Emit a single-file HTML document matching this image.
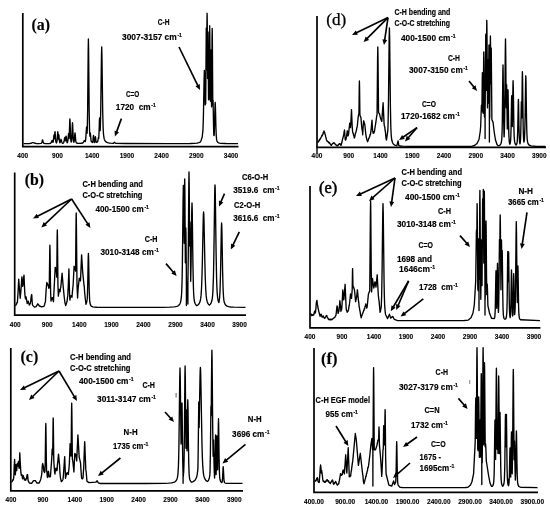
<!DOCTYPE html>
<html><head><meta charset="utf-8"><style>
html,body{margin:0;padding:0;background:#fff;}
svg{display:block;}
text{font-family:"Liberation Sans",Arial,sans-serif;font-weight:bold;fill:#000;stroke:#000;stroke-width:0.15;}
.tk{stroke-width:0.1;}
.sp{fill:none;stroke:#000;stroke-width:1.35;stroke-linejoin:round;}
</style></head><body>
<svg width="550" height="508" viewBox="0 0 550 508">
<rect width="550" height="508" fill="#fff"/>
<path d="M22.8,13 L22.8,146.6 L238.5,146.6" fill="none" stroke="#000" stroke-width="1.7"/><text class="tk" x="22.8" y="157.6" font-size="6.5" text-anchor="middle">400</text><text class="tk" x="57.5" y="157.6" font-size="6.5" text-anchor="middle">900</text><text class="tk" x="92.2" y="157.6" font-size="6.5" text-anchor="middle">1400</text><text class="tk" x="126.9" y="157.6" font-size="6.5" text-anchor="middle">1900</text><text class="tk" x="161.6" y="157.6" font-size="6.5" text-anchor="middle">2400</text><text class="tk" x="196.3" y="157.6" font-size="6.5" text-anchor="middle">2900</text><text class="tk" x="231.0" y="157.6" font-size="6.5" text-anchor="middle">3400</text>
<path d="M23.60,143.59 L29.95,143.46 L31.00,143.27 L32.50,142.69 L33.00,142.60 L33.50,142.69 L35.00,143.27 L36.05,143.46 L38.75,143.56 L40.80,143.42 L41.30,143.24 L41.65,142.83 L41.95,141.96 L42.35,140.17 L42.50,139.90 L42.65,140.17 L43.30,142.73 L43.60,143.17 L44.10,143.40 L45.20,143.53 L47.15,143.56 L49.35,143.49 L50.40,143.31 L50.80,143.07 L51.10,142.69 L51.85,140.82 L52.10,140.50 L52.35,140.82 L52.95,142.40 L53.15,141.81 L53.35,140.62 L53.95,135.07 L54.00,135.00 L54.05,135.07 L54.15,135.63 L54.45,138.79 L54.85,132.68 L55.00,131.60 L55.15,132.68 L55.70,140.60 L56.00,142.23 L56.40,142.92 L56.80,142.23 L57.10,140.60 L57.65,132.68 L57.80,131.60 L57.95,132.68 L58.35,139.01 L58.70,135.17 L58.80,134.80 L58.85,134.89 L59.45,141.06 L59.65,142.15 L59.90,142.79 L60.20,142.17 L60.80,139.69 L61.00,139.30 L61.20,139.69 L61.75,142.01 L62.10,142.84 L62.35,143.12 L62.70,143.31 L63.15,143.15 L63.45,142.91 L63.70,142.51 L63.95,141.75 L64.60,137.96 L64.80,137.40 L65.00,137.96 L65.45,140.79 L65.95,136.65 L66.10,136.10 L66.25,136.65 L66.80,141.31 L67.05,142.38 L67.30,142.78 L67.60,142.14 L67.85,140.89 L68.55,133.59 L68.60,133.50 L68.70,133.84 L69.10,138.55 L69.15,138.24 L69.75,121.11 L69.90,118.90 L70.05,121.11 L70.60,137.42 L70.85,140.43 L71.00,141.32 L71.25,142.10 L71.55,140.92 L71.80,138.37 L72.35,124.57 L72.50,122.70 L72.65,124.57 L73.20,138.37 L73.45,140.92 L73.60,141.67 L73.85,142.33 L74.05,141.86 L74.30,140.33 L74.85,133.69 L75.00,132.90 L75.15,133.69 L75.80,141.07 L76.10,142.35 L76.50,142.95 L77.10,143.26 L78.00,143.42 L80.80,143.27 L82.70,143.02 L83.25,142.45 L84.15,140.80 L84.45,140.51 L84.75,140.66 L85.30,141.59 L85.55,140.35 L85.80,138.08 L86.50,127.40 L86.60,127.00 L86.75,127.87 L87.10,133.20 L87.30,128.43 L87.65,110.12 L88.20,49.99 L88.40,39.00 L88.60,49.99 L89.15,110.12 L89.50,128.43 L89.70,133.20 L89.95,136.31 L90.20,133.36 L90.30,133.00 L90.35,133.09 L91.10,141.09 L91.80,142.00 L92.55,142.52 L92.65,142.26 L92.90,140.91 L93.35,136.23 L93.50,135.50 L93.65,136.23 L94.10,140.91 L94.45,142.56 L94.50,142.60 L94.60,142.30 L94.80,141.30 L95.25,137.32 L95.40,136.70 L95.55,137.32 L96.00,141.30 L96.25,142.46 L97.10,142.10 L97.65,141.68 L97.70,141.54 L98.40,137.55 L98.55,137.44 L98.75,138.23 L99.05,132.22 L99.45,119.89 L99.60,118.00 L99.75,119.89 L100.15,130.60 L100.45,122.62 L100.70,111.46 L101.45,55.66 L101.70,47.00 L101.95,55.66 L102.70,111.46 L103.15,128.47 L103.50,134.31 L104.05,138.20 L104.35,139.29 L104.75,140.29 L105.20,141.06 L105.70,141.63 L106.50,142.22 L107.50,142.65 L108.80,142.96 L110.50,143.18 L113.40,143.35 L113.75,143.08 L114.30,142.33 L114.50,142.20 L114.70,142.33 L115.35,143.18 L115.85,143.44 L125.95,143.54 L169.55,143.58 L190.30,143.46 L194.45,143.32 L197.10,143.08 L198.90,142.69 L200.20,142.06 L200.70,141.59 L202.20,137.00 L202.95,130.18 L203.40,116.55 L204.10,78.53 L204.35,70.65 L204.40,70.40 L204.50,71.39 L204.65,76.22 L205.15,104.30 L205.20,104.86 L205.30,104.00 L205.70,103.48 L206.25,29.24 L206.30,28.00 L206.40,32.82 L206.65,69.98 L206.95,22.91 L207.10,13.30 L207.25,22.91 L207.60,78.45 L207.90,36.65 L208.00,32.00 L208.05,33.20 L208.55,99.76 L209.10,99.04 L209.15,98.49 L209.55,36.27 L209.70,25.70 L209.85,36.27 L210.25,98.49 L210.30,100.15 L210.50,101.23 L210.85,58.39 L211.00,50.00 L211.15,58.39 L211.55,106.88 L212.05,38.73 L212.20,28.40 L212.35,38.73 L212.80,105.28 L212.95,100.47 L213.00,100.00 L213.10,101.82 L213.55,126.92 L213.80,135.11 L214.10,135.59 L214.15,135.54 L214.30,132.53 L215.00,106.09 L215.20,102.40 L215.40,106.09 L215.90,126.71 L216.20,134.65 L216.60,139.39 L216.85,140.63 L217.25,141.64 L217.80,142.35 L218.50,142.81 L219.50,143.13 L220.90,143.33 L225.90,143.52 L238.00,143.58" class="sp"/>
<text x="31.5" y="29.7" style="font-family:'Liberation Serif',serif;font-weight:bold" font-size="16" textLength="18.5" lengthAdjust="spacingAndGlyphs">(a)</text>
<text x="157.8" y="24.9" font-size="8.4" textLength="11.8" lengthAdjust="spacingAndGlyphs">C-H</text>
<text x="122.0" y="39.8" font-size="8.4" textLength="54.8" lengthAdjust="spacingAndGlyphs">3007-3157 cm</text><text x="177.4" y="36.8" font-size="5.21" textLength="4.6" lengthAdjust="spacingAndGlyphs">-1</text>
<line x1="179.0" y1="47.0" x2="198.1" y2="86.1" stroke="#000" stroke-width="1.65"/><polygon points="200.0,90.0 195.5,86.2 199.8,84.1" fill="#000"/>
<text x="125.9" y="96.7" font-size="8.4" textLength="13.4" lengthAdjust="spacingAndGlyphs">C=O</text>
<text x="115.8" y="110.4" font-size="8.4" textLength="34.8" lengthAdjust="spacingAndGlyphs">1720 &#160;cm</text><text x="151.2" y="107.4" font-size="5.21" textLength="4.6" lengthAdjust="spacingAndGlyphs">-1</text>
<line x1="121.4" y1="118.6" x2="116.4" y2="132.4" stroke="#000" stroke-width="1.65"/><polygon points="114.9,136.5 114.5,130.6 119.0,132.2" fill="#000"/>
<path d="M317,16 L317,147.3 L546,147.3" fill="none" stroke="#000" stroke-width="1.7"/><path d="M317,147.3 L317,153" stroke="#000" stroke-width="1.4"/><text class="tk" x="317.0" y="157.7" font-size="6.5" text-anchor="middle">400</text><text class="tk" x="348.8" y="157.7" font-size="6.5" text-anchor="middle">900</text><text class="tk" x="380.5" y="157.7" font-size="6.5" text-anchor="middle">1400</text><text class="tk" x="412.3" y="157.7" font-size="6.5" text-anchor="middle">1900</text><text class="tk" x="444.0" y="157.7" font-size="6.5" text-anchor="middle">2400</text><text class="tk" x="475.8" y="157.7" font-size="6.5" text-anchor="middle">2900</text><text class="tk" x="507.6" y="157.7" font-size="6.5" text-anchor="middle">3400</text><text class="tk" x="539.3" y="157.7" font-size="6.5" text-anchor="middle">3900</text>
<path d="M317.60,142.67 L318.00,142.23 L318.35,141.27 L318.70,141.45 L319.05,140.27 L319.40,140.56 L319.75,139.19 L320.10,139.36 L320.45,138.37 L320.80,138.16 L321.15,137.07 L321.50,136.95 L321.85,135.27 L322.20,135.74 L322.55,134.87 L322.90,134.47 L323.25,132.49 L323.60,132.87 L323.95,130.82 L324.30,131.85 L324.65,132.26 L325.00,134.30 L325.35,134.97 L325.70,136.90 L326.05,137.85 L326.40,139.70 L326.75,140.59 L327.10,141.24 L327.45,141.07 L327.80,141.83 L328.15,141.66 L328.50,142.47 L328.85,142.32 L329.20,143.13 L329.55,142.76 L329.90,143.89 L330.25,143.82 L330.60,144.81 L330.95,144.87 L331.30,145.46 L331.65,144.39 L332.00,144.48 L332.35,143.74 L333.05,143.16 L333.40,143.28 L333.75,142.68 L334.10,143.06 L334.45,143.05 L334.80,143.73 L335.15,144.09 L335.50,144.68 L335.85,144.58 L336.20,145.20 L336.55,145.14 L336.90,145.73 L337.25,145.50 L337.60,145.88 L337.95,145.12 L338.30,145.12 L338.65,144.38 L339.00,144.37 L339.35,143.59 L339.70,143.61 L340.00,143.82 L341.00,145.44 L341.70,143.05 L342.75,138.24 L343.10,137.66 L343.45,135.47 L343.80,134.33 L344.15,131.55 L344.50,130.00 L345.20,139.54 L345.55,140.16 L345.90,139.64 L346.60,136.40 L346.95,133.09 L347.30,130.80 L347.65,131.74 L348.00,135.85 L348.35,135.22 L348.70,133.30 L349.05,128.80 L349.40,126.31 L349.70,123.20 L350.10,126.30 L350.45,127.62 L350.80,123.46 L351.50,109.60 L352.20,126.63 L352.55,130.90 L352.90,133.10 L353.25,133.29 L353.60,135.45 L353.95,135.56 L354.30,138.05 L354.65,137.32 L355.00,135.87 L355.35,133.18 L355.70,133.10 L356.05,131.56 L356.40,130.55 L356.75,127.90 L357.10,127.25 L357.45,124.74 L358.30,115.90 L358.95,113.60 L359.25,86.86 L359.40,81.00 L359.55,86.86 L359.90,114.56 L360.20,116.10 L360.90,117.40 L361.65,126.21 L362.00,129.20 L362.35,130.78 L362.70,134.80 L363.05,127.93 L363.60,120.80 L364.70,124.10 L365.15,127.47 L365.50,131.48 L366.20,136.97 L366.55,138.17 L366.90,140.02 L367.25,140.62 L367.60,141.73 L367.95,140.54 L368.30,140.08 L368.65,138.43 L369.00,138.44 L369.35,137.06 L369.70,136.72 L370.05,134.53 L370.40,134.88 L371.10,129.79 L372.00,120.10 L372.50,129.67 L372.85,131.91 L373.20,133.28 L373.55,131.63 L373.90,132.97 L374.60,130.79 L374.95,127.82 L375.60,124.10 L376.70,116.10 L377.05,114.59 L377.60,57.45 L377.80,47.00 L378.00,57.45 L378.55,112.66 L379.40,113.40 L380.70,118.80 L381.80,121.40 L383.10,102.70 L384.10,124.10 L384.40,125.95 L384.75,126.81 L385.10,130.25 L385.45,131.86 L385.80,136.28 L386.15,139.07 L386.50,140.05 L387.85,130.46 L388.10,122.76 L388.55,95.86 L389.15,38.61 L389.40,28.00 L389.65,38.61 L390.40,107.01 L390.85,127.86 L391.20,135.02 L391.65,139.20 L391.85,140.28 L392.50,142.47 L392.90,143.28 L393.40,143.99 L394.05,144.60 L394.80,145.06 L395.75,145.42 L396.90,145.70 L398.10,140.80 L398.80,145.50 L399.60,146.02 L402.65,146.17 L409.40,146.30 L468.90,146.30 L471.95,146.23 L472.30,146.20 L474.50,145.50 L477.00,143.50 L479.00,139.50 L480.30,131.00 L480.70,125.70 L481.40,105.56 L481.50,105.00 L481.60,105.56 L481.90,111.14 L482.25,79.31 L482.40,72.70 L482.55,79.31 L482.90,112.40 L483.20,113.20 L483.65,60.46 L483.80,52.00 L483.95,60.46 L484.40,115.00 L484.45,116.53 L485.05,118.00 L485.10,138.50 L485.10,118.00 L485.75,35.30 L485.80,34.10 L485.85,35.30 L485.95,44.17 L486.25,90.25 L486.65,29.60 L486.80,20.30 L486.95,29.60 L487.50,107.87 L487.85,67.75 L488.00,60.00 L488.15,67.75 L488.45,103.20 L488.50,101.94 L488.85,54.09 L488.95,46.09 L489.00,45.00 L489.05,46.09 L489.35,81.82 L489.40,142.00 L489.40,88.96 L489.70,118.00 L490.25,45.81 L490.40,35.90 L490.55,45.81 L490.80,83.80 L491.10,52.01 L491.20,47.90 L491.25,48.96 L491.90,119.80 L493.05,122.11 L494.20,132.00 L495.50,140.00 L497.00,144.50 L498.15,145.89 L499.45,145.45 L500.35,144.72 L500.90,143.78 L501.30,142.50 L501.60,140.73 L501.80,138.57 L502.10,131.43 L502.30,121.53 L502.85,71.00 L503.00,65.00 L503.15,71.00 L503.70,121.53 L503.95,133.14 L504.10,136.90 L504.15,136.56 L504.45,129.07 L504.70,115.78 L505.30,50.20 L505.50,38.90 L505.70,50.20 L506.20,107.79 L506.50,87.18 L506.60,84.60 L506.65,85.26 L507.30,129.11 L507.85,93.97 L507.95,90.29 L508.00,89.80 L508.05,90.29 L508.60,124.14 L508.85,134.62 L509.20,140.96 L509.45,142.72 L509.75,143.83 L509.90,144.20 L509.95,144.10 L510.40,142.29 L510.60,140.48 L510.80,137.08 L511.05,128.81 L511.55,99.44 L511.70,95.70 L511.85,99.44 L512.30,126.46 L512.90,87.52 L513.10,80.60 L513.30,87.52 L513.90,127.66 L514.15,135.80 L514.50,140.83 L514.75,142.40 L515.10,143.62 L515.55,144.51 L516.10,145.12 L516.55,144.48 L516.90,143.54 L517.30,140.91 L517.70,132.04 L518.25,102.87 L518.40,99.40 L518.55,102.87 L518.95,125.51 L519.25,136.61 L519.45,140.30 L519.65,142.26 L520.00,143.86 L520.20,142.96 L520.50,139.90 L520.75,133.47 L521.35,102.08 L521.40,101.60 L521.50,103.47 L521.75,117.87 L521.80,117.02 L522.25,77.21 L522.40,71.70 L522.55,77.21 L523.20,128.74 L523.50,137.68 L523.70,140.35 L523.95,142.14 L524.25,140.60 L524.50,137.87 L524.85,129.35 L525.15,114.39 L525.60,82.13 L525.80,75.80 L526.00,82.13 L526.50,117.47 L526.80,131.07 L527.15,138.57 L527.40,140.97 L527.75,142.72 L528.25,144.00 L528.90,144.87 L529.80,145.47 L531.05,145.85 L532.75,146.09 L535.30,146.23 L545.50,146.36" class="sp"/>
<text x="326.2" y="24.8" style="font-family:'Liberation Serif',serif;font-weight:normal;stroke:#000;stroke-width:0.25" font-size="16" textLength="20.0" lengthAdjust="spacingAndGlyphs">(d)</text>
<text x="394.5" y="15.4" font-size="8.4" textLength="55.9" lengthAdjust="spacingAndGlyphs">C-H bending and</text>
<text x="394.5" y="26.0" font-size="8.4" textLength="55.5" lengthAdjust="spacingAndGlyphs">C-O-C stretching</text>
<text x="401.0" y="41.4" font-size="8.4" textLength="49.4" lengthAdjust="spacingAndGlyphs">400-1500 cm</text><text x="451.0" y="38.4" font-size="5.21" textLength="4.6" lengthAdjust="spacingAndGlyphs">-1</text>
<line x1="388.0" y1="17.6" x2="355.9" y2="33.1" stroke="#000" stroke-width="1.65"/><polygon points="352.0,35.0 355.8,30.5 357.9,34.8" fill="#000"/>
<line x1="388.0" y1="17.6" x2="366.7" y2="38.9" stroke="#000" stroke-width="1.65"/><polygon points="363.6,42.0 365.7,36.5 369.1,39.9" fill="#000"/>
<line x1="388.0" y1="17.6" x2="384.6" y2="40.7" stroke="#000" stroke-width="1.65"/><polygon points="384.0,45.0 382.4,39.3 387.2,40.0" fill="#000"/>
<text x="448.0" y="61.4" font-size="8.4" textLength="12.0" lengthAdjust="spacingAndGlyphs">C-H</text>
<text x="409.0" y="73.4" font-size="8.4" textLength="53.8" lengthAdjust="spacingAndGlyphs">3007-3150 cm</text><text x="463.4" y="70.4" font-size="5.21" textLength="4.6" lengthAdjust="spacingAndGlyphs">-1</text>
<line x1="469.0" y1="81.0" x2="474.3" y2="87.6" stroke="#000" stroke-width="1.65"/><polygon points="477.0,91.0 471.8,88.3 475.5,85.3" fill="#000"/>
<text x="422.0" y="106.8" font-size="8.4" textLength="14.0" lengthAdjust="spacingAndGlyphs">C=O</text>
<text x="401.0" y="119.4" font-size="8.4" textLength="53.8" lengthAdjust="spacingAndGlyphs">1720-1682 cm</text><text x="455.4" y="116.4" font-size="5.21" textLength="4.6" lengthAdjust="spacingAndGlyphs">-1</text>
<line x1="417.0" y1="127.6" x2="402.6" y2="137.5" stroke="#000" stroke-width="1.65"/><polygon points="399.0,140.0 402.1,135.0 404.8,138.9" fill="#000"/>
<line x1="417.0" y1="127.6" x2="407.8" y2="138.2" stroke="#000" stroke-width="1.65"/><polygon points="405.0,141.5 406.7,135.8 410.3,139.0" fill="#000"/>
<path d="M14.7,172.4 L14.7,315.1 L246,315.1" fill="none" stroke="#000" stroke-width="1.7"/><text class="tk" x="15.2" y="326.8" font-size="6.5" text-anchor="middle">400</text><text class="tk" x="47.3" y="326.8" font-size="6.5" text-anchor="middle">900</text><text class="tk" x="79.3" y="326.8" font-size="6.5" text-anchor="middle">1400</text><text class="tk" x="111.4" y="326.8" font-size="6.5" text-anchor="middle">1900</text><text class="tk" x="143.4" y="326.8" font-size="6.5" text-anchor="middle">2400</text><text class="tk" x="175.5" y="326.8" font-size="6.5" text-anchor="middle">2900</text><text class="tk" x="207.6" y="326.8" font-size="6.5" text-anchor="middle">3400</text><text class="tk" x="239.6" y="326.8" font-size="6.5" text-anchor="middle">3900</text>
<path d="M15.40,305.74 L16.00,304.95 L16.35,303.80 L16.70,303.88 L17.05,302.11 L17.40,302.42 L18.10,291.59 L18.70,279.10 L20.20,298.24 L20.90,290.86 L21.90,276.90 L22.45,284.94 L22.65,286.34 L22.95,285.25 L23.20,281.90 L24.00,275.20 L24.75,292.67 L25.10,296.45 L25.45,298.54 L25.80,298.97 L26.15,297.02 L26.85,301.05 L27.20,303.66 L27.55,302.04 L27.90,302.67 L28.25,301.15 L28.60,303.00 L28.95,303.32 L29.30,305.10 L29.65,303.95 L30.00,304.20 L30.35,303.09 L30.70,301.47 L31.05,297.92 L31.40,295.43 L31.75,294.51 L32.10,300.70 L32.45,304.73 L32.80,305.34 L34.40,307.10 L36.10,306.60 L37.80,303.80 L39.50,306.00 L41.70,306.80 L44.00,306.30 L44.70,304.20 L45.05,302.60 L45.40,302.10 L46.10,290.29 L46.80,282.50 L48.10,285.30 L48.90,288.23 L49.25,287.60 L49.75,250.78 L49.90,245.20 L50.05,250.78 L50.45,283.63 L50.65,293.35 L51.00,301.00 L51.35,299.29 L51.70,299.30 L52.05,297.99 L52.40,297.60 L52.75,298.42 L53.10,300.46 L53.45,301.69 L55.20,267.30 L56.30,270.70 L56.75,277.14 L57.15,236.94 L57.30,230.00 L57.45,236.94 L57.95,285.10 L58.35,296.16 L58.70,294.00 L59.05,289.35 L60.10,291.68 L60.45,288.24 L60.80,287.32 L62.10,273.20 L63.25,287.20 L64.30,297.78 L64.65,300.50 L65.00,302.80 L65.70,305.54 L66.05,304.39 L66.40,303.74 L66.75,302.05 L67.10,301.35 L67.45,297.73 L67.80,295.40 L68.35,284.09 L68.90,269.00 L69.55,293.76 L69.90,300.04 L70.25,297.80 L70.60,297.36 L70.95,295.63 L71.30,296.89 L71.65,296.65 L72.00,297.30 L72.35,292.56 L73.10,285.30 L74.10,266.20 L75.10,268.30 L75.55,271.04 L75.60,270.30 L76.05,219.96 L76.20,213.00 L76.35,219.96 L77.00,285.12 L77.60,298.00 L77.95,290.76 L78.30,286.70 L79.30,278.20 L80.50,281.00 L81.60,254.90 L82.60,271.10 L84.00,285.30 L84.25,286.14 L84.60,292.08 L85.30,298.92 L86.00,304.33 L86.70,301.99 L87.20,299.40 L87.45,294.40 L87.75,282.95 L88.20,258.25 L88.40,253.40 L88.60,258.25 L89.20,289.47 L89.60,299.61 L89.95,303.00 L90.65,305.25 L91.10,305.92 L91.75,306.44 L92.85,306.87 L94.45,307.13 L96.85,307.29 L100.65,307.37 L125.60,307.44 L162.55,307.34 L169.80,307.20 L174.05,306.92 L175.55,306.70 L176.75,306.41 L177.70,306.04 L178.50,305.55 L179.25,304.83 L179.90,303.81 L180.45,302.43 L180.85,300.85 L181.40,296.71 L181.80,289.75 L182.10,279.51 L182.35,265.76 L183.10,198.96 L183.35,185.82 L183.40,185.40 L183.50,187.05 L183.65,195.11 L184.20,243.22 L184.55,188.47 L184.70,179.00 L184.85,188.47 L185.35,262.87 L185.70,230.70 L185.80,228.00 L185.95,233.86 L186.35,272.14 L186.40,305.50 L186.40,276.20 L186.70,292.84 L187.05,300.38 L187.35,297.66 L187.55,294.61 L187.85,285.80 L187.90,304.00 L187.90,283.52 L188.25,257.35 L188.80,184.05 L189.00,171.90 L189.20,184.05 L189.65,246.00 L189.90,224.91 L190.00,222.00 L190.05,222.74 L190.70,281.34 L191.10,262.41 L191.75,211.31 L192.00,203.00 L192.25,211.31 L192.95,265.73 L193.40,287.02 L193.65,293.33 L194.00,298.26 L194.45,301.35 L195.10,303.54 L195.80,304.79 L196.75,305.72 L197.90,305.02 L198.85,304.01 L199.65,302.59 L200.25,300.76 L200.70,298.41 L201.05,295.40 L201.55,287.78 L201.95,277.34 L202.40,259.72 L203.20,220.56 L203.40,214.28 L203.60,212.00 L203.80,214.28 L204.00,220.56 L204.80,259.72 L205.25,277.34 L205.70,288.78 L206.20,295.92 L206.65,299.34 L207.30,301.95 L207.70,302.92 L208.20,303.80 L208.80,304.55 L209.45,305.14 L210.40,304.13 L211.15,302.80 L211.75,301.06 L212.20,298.93 L212.60,295.68 L212.90,291.57 L213.45,276.59 L213.90,253.03 L214.70,194.03 L214.85,187.37 L215.00,185.00 L215.15,187.37 L215.30,194.03 L216.10,253.03 L216.60,278.51 L216.90,287.50 L217.20,293.16 L217.60,297.53 L218.15,300.67 L218.80,302.66 L219.10,301.48 L219.60,297.82 L220.00,291.49 L220.55,272.84 L221.35,228.39 L221.60,223.00 L221.75,225.01 L221.90,230.57 L222.60,270.42 L223.05,287.77 L223.30,293.51 L223.60,297.82 L223.95,300.67 L224.35,302.50 L225.00,304.13 L225.85,305.28 L227.00,306.08 L228.60,306.63 L230.75,306.96 L233.85,307.18 L245.50,307.37" class="sp"/>
<text x="24.7" y="184.7" style="font-family:'Liberation Serif',serif;font-weight:bold" font-size="16" textLength="19.3" lengthAdjust="spacingAndGlyphs">(b)</text>
<text x="82.4" y="187.4" font-size="8.4" textLength="60.6" lengthAdjust="spacingAndGlyphs">C-H bending and</text>
<text x="82.4" y="198.4" font-size="8.4" textLength="60.0" lengthAdjust="spacingAndGlyphs">C-O-C stretching</text>
<text x="95.6" y="212.4" font-size="8.4" textLength="48.2" lengthAdjust="spacingAndGlyphs">400-1500 cm</text><text x="144.4" y="209.4" font-size="5.21" textLength="4.6" lengthAdjust="spacingAndGlyphs">-1</text>
<line x1="71.6" y1="199.0" x2="36.9" y2="216.5" stroke="#000" stroke-width="1.65"/><polygon points="33.0,218.4 36.7,213.8 38.9,218.1" fill="#000"/>
<line x1="71.6" y1="199.0" x2="44.5" y2="224.6" stroke="#000" stroke-width="1.65"/><polygon points="41.4,227.6 43.7,222.1 47.0,225.6" fill="#000"/>
<line x1="71.6" y1="199.0" x2="88.1" y2="224.4" stroke="#000" stroke-width="1.65"/><polygon points="90.4,228.0 85.4,224.8 89.5,222.2" fill="#000"/>
<text x="144.7" y="242.2" font-size="8.4" textLength="12.8" lengthAdjust="spacingAndGlyphs">C-H</text>
<text x="100.5" y="255.4" font-size="8.4" textLength="53.3" lengthAdjust="spacingAndGlyphs">3010-3148 cm</text><text x="154.4" y="252.4" font-size="5.21" textLength="4.6" lengthAdjust="spacingAndGlyphs">-1</text>
<line x1="166.0" y1="263.6" x2="173.8" y2="272.7" stroke="#000" stroke-width="1.65"/><polygon points="176.6,276.0 171.3,273.5 174.9,270.3" fill="#000"/>
<text x="242.0" y="180.1" font-size="8.4" textLength="26.2" lengthAdjust="spacingAndGlyphs">C6-O-H</text>
<text x="233.3" y="193.4" font-size="8.4" textLength="41.2" lengthAdjust="spacingAndGlyphs">3519.6 &#160;cm</text><text x="275.1" y="190.4" font-size="5.21" textLength="4.6" lengthAdjust="spacingAndGlyphs">-1</text>
<text x="234.0" y="207.6" font-size="8.4" textLength="26.2" lengthAdjust="spacingAndGlyphs">C2-O-H</text>
<text x="233.3" y="220.9" font-size="8.4" textLength="41.2" lengthAdjust="spacingAndGlyphs">3616.6 &#160;cm</text><text x="275.1" y="217.9" font-size="5.21" textLength="4.6" lengthAdjust="spacingAndGlyphs">-1</text>
<line x1="224.5" y1="193.7" x2="220.7" y2="202.4" stroke="#000" stroke-width="1.65"/><polygon points="219.0,206.4 218.9,200.5 223.3,202.4" fill="#000"/>
<line x1="239.3" y1="231.8" x2="232.7" y2="245.6" stroke="#000" stroke-width="1.65"/><polygon points="230.8,249.5 231.0,243.6 235.3,245.7" fill="#000"/>
<path d="M310,186 L310,327.8 L540.4,327.8" fill="none" stroke="#000" stroke-width="1.7"/><text class="tk" x="310.0" y="339.3" font-size="6.5" text-anchor="middle">400</text><text class="tk" x="342.0" y="339.3" font-size="6.5" text-anchor="middle">900</text><text class="tk" x="374.0" y="339.3" font-size="6.5" text-anchor="middle">1400</text><text class="tk" x="406.0" y="339.3" font-size="6.5" text-anchor="middle">1900</text><text class="tk" x="438.0" y="339.3" font-size="6.5" text-anchor="middle">2400</text><text class="tk" x="470.0" y="339.3" font-size="6.5" text-anchor="middle">2900</text><text class="tk" x="502.0" y="339.3" font-size="6.5" text-anchor="middle">3400</text><text class="tk" x="534.0" y="339.3" font-size="6.5" text-anchor="middle">3900</text>
<path d="M310.60,313.70 L311.00,314.33 L311.35,314.26 L311.70,315.44 L312.05,314.74 L312.40,315.42 L312.75,314.60 L313.10,315.21 L313.45,314.77 L313.80,315.00 L314.15,312.90 L314.50,311.67 L314.85,310.99 L315.20,313.08 L315.55,311.93 L315.90,308.55 L316.25,303.57 L316.60,301.33 L316.95,300.37 L317.30,304.10 L317.65,305.39 L318.00,308.00 L318.35,309.19 L318.70,311.23 L319.05,312.04 L319.40,313.76 L319.75,314.67 L320.10,316.30 L320.45,315.05 L320.80,314.74 L321.15,314.19 L321.50,315.75 L321.85,316.28 L322.20,317.38 L322.55,316.21 L322.90,316.54 L323.25,315.90 L323.60,317.13 L323.95,317.23 L324.30,318.30 L324.65,318.09 L325.00,318.13 L325.35,317.27 L325.70,316.95 L326.05,316.10 L326.75,315.53 L327.10,316.77 L327.45,317.28 L328.50,319.50 L328.85,319.21 L329.20,319.61 L329.55,319.34 L329.90,319.72 L330.25,319.26 L330.60,319.77 L330.95,319.32 L331.30,319.66 L331.65,319.26 L332.00,319.55 L332.35,319.10 L332.70,319.10 L333.05,318.50 L333.40,318.40 L333.75,317.98 L334.10,317.93 L334.45,317.50 L334.80,317.55 L335.15,316.41 L335.50,316.25 L335.85,315.21 L336.00,315.21 L337.05,305.84 L337.40,307.03 L338.10,313.45 L338.45,312.18 L338.80,311.70 L339.50,306.10 L339.85,300.71 L340.55,306.28 L340.90,311.26 L341.25,310.20 L341.60,309.87 L341.95,306.42 L342.80,290.00 L343.70,299.90 L344.00,298.43 L345.10,284.30 L346.15,308.07 L346.50,310.29 L346.85,310.90 L347.20,312.22 L347.55,311.58 L347.90,311.57 L348.60,309.42 L348.95,306.60 L349.30,305.28 L350.00,299.23 L350.50,293.90 L351.50,298.40 L352.20,289.87 L352.45,273.27 L352.60,268.60 L352.95,285.78 L353.50,287.00 L354.50,290.00 L355.60,301.60 L356.60,297.20 L357.40,289.80 L358.40,300.37 L358.75,302.23 L359.10,306.36 L359.45,307.84 L359.80,310.47 L360.15,311.63 L360.50,314.58 L361.20,317.82 L361.55,316.07 L361.90,315.88 L362.25,314.16 L362.60,313.94 L362.95,312.61 L363.30,312.00 L363.65,310.10 L364.00,310.50 L364.35,308.38 L364.70,309.00 L365.05,306.24 L365.40,306.43 L365.75,303.97 L366.10,305.40 L366.45,306.27 L366.80,308.20 L367.15,306.84 L368.40,294.20 L369.50,291.30 L369.70,291.06 L369.75,290.36 L370.40,213.58 L370.60,201.00 L370.75,208.38 L371.25,272.55 L371.50,291.80 L371.60,292.00 L372.50,278.50 L373.80,288.00 L375.00,281.80 L376.00,287.00 L377.20,274.80 L378.30,295.00 L378.70,298.67 L379.05,300.85 L380.10,312.34 L380.45,311.40 L381.25,306.62 L381.65,295.93 L382.10,270.21 L382.75,212.92 L383.00,203.60 L383.25,212.92 L384.05,280.70 L384.30,293.89 L384.60,303.72 L384.75,306.59 L385.25,312.44 L385.50,314.12 L385.65,314.70 L387.60,318.60 L389.50,314.20 L390.60,318.10 L392.80,316.40 L394.20,319.30 L397.15,320.48 L413.40,320.65 L452.60,320.65 L464.35,320.52 L466.65,320.42 L468.00,320.20 L471.00,317.80 L473.00,313.00 L474.30,305.00 L475.70,281.14 L476.35,233.53 L476.45,230.40 L476.50,230.00 L476.55,230.40 L476.75,239.23 L476.80,237.64 L477.10,203.60 L477.25,214.10 L477.80,288.60 L478.00,290.00 L478.20,290.67 L478.25,289.36 L478.70,242.21 L478.80,238.80 L478.90,242.21 L479.00,310.60 L479.00,251.10 L479.25,279.75 L479.30,277.39 L479.75,202.17 L479.90,190.50 L480.05,202.17 L480.50,277.39 L480.80,299.33 L481.35,247.23 L481.50,240.00 L481.65,247.23 L482.05,285.52 L482.60,203.88 L482.70,198.80 L482.75,200.11 L483.00,227.56 L483.30,189.40 L483.45,201.17 L483.80,263.12 L484.15,202.81 L484.25,192.59 L484.30,191.20 L484.35,192.59 L484.95,283.33 L485.00,315.00 L485.00,288.30 L485.15,299.32 L485.25,293.88 L485.85,228.26 L486.00,220.90 L486.15,228.26 L486.55,276.35 L486.80,294.67 L487.05,285.92 L487.20,284.00 L487.40,287.29 L487.90,305.60 L489.50,313.00 L491.60,318.40 L494.35,318.53 L494.65,317.66 L494.90,316.08 L495.25,309.84 L495.85,275.18 L496.00,270.70 L496.15,275.18 L496.55,301.57 L496.75,308.24 L497.35,268.45 L497.50,263.30 L497.65,268.45 L498.10,301.61 L498.30,309.85 L498.45,312.39 L498.70,305.36 L498.90,293.69 L499.45,240.37 L499.50,239.50 L499.60,242.89 L499.75,257.25 L499.80,254.90 L500.05,222.79 L500.20,215.00 L500.35,222.79 L500.95,289.82 L501.35,247.23 L501.50,240.00 L501.90,270.90 L502.10,253.43 L502.20,250.50 L502.30,253.43 L502.75,293.84 L503.05,309.11 L503.40,315.30 L503.65,316.98 L504.00,318.22 L504.40,319.01 L505.55,319.06 L505.80,318.70 L506.15,317.82 L506.45,316.49 L506.80,312.81 L507.00,307.62 L507.20,297.68 L507.65,257.70 L507.80,251.50 L507.95,257.70 L508.20,281.50 L508.50,254.86 L508.60,252.00 L508.65,252.74 L509.25,300.87 L509.50,310.74 L509.80,315.42 L509.95,316.52 L510.00,313.50 L510.00,316.81 L510.15,317.49 L510.20,317.38 L510.50,314.92 L510.70,311.12 L510.95,301.30 L511.35,274.55 L511.50,270.00 L511.65,274.55 L512.10,303.83 L512.30,311.12 L512.50,314.92 L512.60,316.02 L512.65,315.88 L512.95,310.47 L513.00,315.00 L513.00,308.91 L513.55,277.82 L513.70,273.60 L513.85,277.82 L514.35,307.11 L514.55,312.92 L514.65,314.66 L514.70,314.30 L514.95,311.63 L515.15,307.72 L515.45,295.58 L516.10,232.02 L516.30,221.60 L516.50,232.02 L517.00,285.11 L517.30,302.50 L517.75,270.90 L517.90,266.00 L518.05,270.90 L518.60,307.01 L518.90,314.46 L519.30,317.60 L519.55,318.43 L519.90,319.12 L520.30,319.59 L520.70,319.78 L540.00,320.67" class="sp"/>
<text x="319.1" y="192.8" style="font-family:'Liberation Serif',serif;font-weight:normal;stroke:#000;stroke-width:0.5" font-size="16" textLength="18.2" lengthAdjust="spacingAndGlyphs">(e)</text>
<text x="401.6" y="174.8" font-size="8.4" textLength="60.4" lengthAdjust="spacingAndGlyphs">C-H bending and</text>
<text x="401.6" y="186.0" font-size="8.4" textLength="60.0" lengthAdjust="spacingAndGlyphs">C-O-C stretching</text>
<text x="405.0" y="200.4" font-size="8.4" textLength="49.8" lengthAdjust="spacingAndGlyphs">400-1500 cm</text><text x="455.4" y="197.4" font-size="5.21" textLength="4.6" lengthAdjust="spacingAndGlyphs">-1</text>
<line x1="395.0" y1="178.0" x2="359.9" y2="194.2" stroke="#000" stroke-width="1.65"/><polygon points="356.0,196.0 359.9,191.6 361.9,195.9" fill="#000"/>
<line x1="395.0" y1="178.0" x2="372.2" y2="198.1" stroke="#000" stroke-width="1.65"/><polygon points="369.0,201.0 371.5,195.6 374.6,199.2" fill="#000"/>
<line x1="395.0" y1="178.0" x2="391.6" y2="202.7" stroke="#000" stroke-width="1.65"/><polygon points="391.0,207.0 389.4,201.3 394.1,202.0" fill="#000"/>
<text x="438.0" y="214.0" font-size="8.4" textLength="13.0" lengthAdjust="spacingAndGlyphs">C-H</text>
<text x="397.0" y="226.8" font-size="8.4" textLength="53.8" lengthAdjust="spacingAndGlyphs">3010-3148 cm</text><text x="451.4" y="223.8" font-size="5.21" textLength="4.6" lengthAdjust="spacingAndGlyphs">-1</text>
<line x1="460.0" y1="235.6" x2="467.2" y2="243.8" stroke="#000" stroke-width="1.65"/><polygon points="470.0,247.0 464.6,244.5 468.2,241.4" fill="#000"/>
<text x="418.5" y="248.0" font-size="8.4" textLength="14.5" lengthAdjust="spacingAndGlyphs">C=O</text>
<text x="396.9" y="261.6" font-size="8.4" textLength="35.1" lengthAdjust="spacingAndGlyphs">1698 and</text>
<text x="399.0" y="272.0" font-size="8.4" textLength="31.0" lengthAdjust="spacingAndGlyphs">1646cm</text><text x="430.6" y="269.0" font-size="5.21" textLength="4.6" lengthAdjust="spacingAndGlyphs">-1</text>
<text x="419.0" y="289.8" font-size="8.4" textLength="33.8" lengthAdjust="spacingAndGlyphs">1728 &#160;cm</text><text x="453.4" y="286.8" font-size="5.21" textLength="4.6" lengthAdjust="spacingAndGlyphs">-1</text>
<line x1="408.6" y1="280.9" x2="393.0" y2="307.5" stroke="#000" stroke-width="1.65"/><polygon points="390.8,311.2 391.5,305.3 395.6,307.8" fill="#000"/>
<line x1="408.6" y1="280.9" x2="397.9" y2="306.0" stroke="#000" stroke-width="1.65"/><polygon points="396.2,310.0 396.1,304.1 400.5,306.0" fill="#000"/>
<line x1="423.3" y1="298.8" x2="404.0" y2="313.9" stroke="#000" stroke-width="1.65"/><polygon points="400.6,316.6 403.4,311.4 406.3,315.2" fill="#000"/>
<text x="518.4" y="194.4" font-size="8.4" textLength="14.6" lengthAdjust="spacingAndGlyphs">N-H</text>
<text x="508.0" y="205.4" font-size="8.4" textLength="30.8" lengthAdjust="spacingAndGlyphs">3665 cm</text><text x="539.4" y="202.4" font-size="5.21" textLength="4.6" lengthAdjust="spacingAndGlyphs">-1</text>
<line x1="527.0" y1="212.4" x2="522.2" y2="244.7" stroke="#000" stroke-width="1.65"/><polygon points="521.6,249.0 520.0,243.3 524.8,244.0" fill="#000"/>
<path d="M10.8,348 L10.8,490.9 L243,490.9" fill="none" stroke="#000" stroke-width="1.7"/><text class="tk" x="11.0" y="501.9" font-size="6.5" text-anchor="middle">400</text><text class="tk" x="42.9" y="501.9" font-size="6.5" text-anchor="middle">900</text><text class="tk" x="74.8" y="501.9" font-size="6.5" text-anchor="middle">1400</text><text class="tk" x="106.7" y="501.9" font-size="6.5" text-anchor="middle">1900</text><text class="tk" x="138.6" y="501.9" font-size="6.5" text-anchor="middle">2400</text><text class="tk" x="170.5" y="501.9" font-size="6.5" text-anchor="middle">2900</text><text class="tk" x="202.4" y="501.9" font-size="6.5" text-anchor="middle">3400</text><text class="tk" x="234.3" y="501.9" font-size="6.5" text-anchor="middle">3900</text>
<path d="M11.50,482.00 L11.60,482.00 L12.50,480.85 L12.85,479.76 L13.20,480.15 L13.55,478.86 L13.90,475.19 L14.25,465.39 L14.60,459.40 L15.30,474.71 L15.65,470.95 L16.00,464.60 L16.35,468.76 L16.70,470.50 L17.05,465.45 L17.40,463.48 L17.75,464.14 L18.10,466.06 L18.45,461.46 L19.15,468.37 L19.50,461.50 L19.80,452.80 L20.20,461.71 L20.90,472.69 L21.25,475.28 L21.60,475.65 L21.95,474.59 L22.30,477.24 L22.65,478.72 L23.00,478.05 L23.35,475.67 L23.70,477.72 L24.05,477.72 L24.40,479.78 L24.75,479.16 L25.10,480.30 L25.45,479.87 L25.80,480.13 L26.15,478.51 L26.50,478.64 L26.85,476.17 L27.20,474.72 L27.55,474.59 L28.10,480.60 L29.30,483.00 L31.60,483.46 L33.50,480.60 L35.40,480.60 L36.80,483.00 L39.20,483.00 L40.60,479.70 L41.00,478.18 L41.70,474.49 L42.40,464.61 L42.75,463.54 L43.45,466.75 L43.80,471.16 L44.15,471.49 L44.50,472.65 L44.85,471.65 L45.20,463.51 L45.65,428.79 L45.80,423.40 L45.95,428.79 L46.35,460.50 L46.60,470.96 L46.95,472.07 L47.30,476.91 L47.65,477.45 L48.35,471.23 L48.70,472.43 L49.05,475.94 L49.40,476.90 L49.75,476.08 L50.10,476.90 L50.45,476.51 L51.70,458.90 L52.20,449.00 L52.70,454.50 L53.05,423.87 L53.20,418.00 L53.35,423.87 L53.75,458.44 L53.95,463.72 L54.65,472.45 L55.00,474.02 L55.35,469.78 L55.70,468.68 L56.05,468.22 L56.40,470.68 L56.75,470.60 L57.10,469.85 L57.45,464.35 L57.80,461.97 L58.50,454.10 L59.55,465.14 L59.90,472.07 L60.25,476.25 L60.60,478.67 L60.95,479.72 L61.30,481.58 L61.65,481.15 L62.00,481.12 L62.35,480.41 L62.70,480.09 L63.05,479.13 L63.40,475.21 L64.70,456.60 L65.50,478.30 L65.85,476.31 L66.20,475.42 L66.55,473.14 L66.90,473.95 L67.25,472.58 L67.60,473.56 L67.95,473.11 L68.30,474.47 L69.00,468.00 L69.35,463.38 L70.10,443.60 L70.90,456.00 L71.10,455.75 L71.55,410.40 L71.70,403.20 L71.85,410.40 L72.35,458.60 L72.85,461.37 L73.90,471.95 L74.80,453.50 L75.80,454.70 L76.70,460.90 L77.90,434.90 L79.20,457.20 L80.55,462.83 L80.90,468.91 L81.60,478.30 L81.95,478.29 L82.30,478.95 L82.65,478.42 L83.00,478.11 L83.35,472.37 L83.70,468.40 L84.55,443.88 L84.70,441.70 L84.85,443.88 L85.05,451.05 L85.80,469.40 L86.15,471.98 L87.00,481.40 L89.10,482.60 L95.90,482.20 L97.10,480.80 L98.40,482.80 L99.95,483.46 L145.55,483.46 L164.25,483.32 L168.65,483.16 L171.55,482.88 L173.55,482.45 L175.00,481.77 L175.80,481.07 L176.45,480.15 L177.00,478.90 L177.40,477.48 L177.75,475.53 L178.00,473.33 L178.40,466.75 L178.70,457.06 L178.95,444.05 L179.75,377.19 L180.00,368.00 L180.25,377.19 L181.05,444.05 L181.40,422.16 L181.50,420.00 L181.65,424.68 L181.90,405.74 L182.00,403.00 L182.05,403.70 L182.60,451.84 L182.80,464.47 L183.05,473.06 L183.10,483.20 L183.10,474.10 L183.30,476.36 L183.70,471.48 L183.95,464.73 L184.15,455.13 L184.45,430.23 L184.90,376.53 L185.10,366.00 L185.30,376.53 L185.95,448.36 L186.35,415.42 L186.50,410.00 L186.65,415.42 L187.05,450.84 L187.60,407.30 L187.80,399.80 L188.00,407.30 L188.45,445.55 L188.75,463.29 L189.10,473.39 L189.35,476.63 L189.65,478.67 L190.00,480.02 L190.40,480.96 L190.90,481.69 L191.55,482.24 L193.30,481.57 L194.60,480.64 L195.20,479.98 L195.70,479.24 L196.55,477.30 L197.20,474.58 L197.65,471.15 L197.90,468.18 L198.10,458.60 L198.75,402.71 L198.80,402.00 L198.90,404.77 L199.15,427.47 L200.00,377.90 L200.20,370.27 L200.40,367.50 L200.60,370.27 L200.80,377.90 L202.00,444.91 L202.40,458.31 L202.80,466.68 L203.40,473.29 L203.75,475.38 L204.20,477.14 L204.80,478.68 L205.55,479.92 L206.50,480.91 L207.50,481.53 L208.10,480.88 L208.60,480.06 L209.00,479.10 L209.35,477.89 L209.85,475.01 L210.05,470.87 L210.40,453.02 L210.90,408.64 L211.00,406.00 L211.05,406.67 L211.20,415.67 L211.65,363.76 L211.90,350.20 L212.10,359.17 L212.70,427.25 L213.10,456.24 L213.35,443.21 L213.45,440.38 L213.50,440.00 L213.55,440.38 L214.15,468.40 L214.55,477.86 L214.60,473.00 L214.60,477.97 L214.95,469.50 L215.45,439.35 L215.60,435.00 L215.75,439.35 L216.05,459.25 L216.10,474.50 L216.10,462.23 L216.30,471.36 L216.85,440.26 L217.00,436.00 L217.15,440.26 L217.65,469.79 L217.90,458.01 L218.35,423.48 L218.50,418.70 L218.65,423.48 L219.05,454.70 L219.35,470.01 L219.70,477.27 L219.95,479.29 L220.35,480.85 L220.95,481.95 L221.75,482.60 L222.05,482.09 L222.25,481.35 L222.60,477.91 L223.05,468.21 L223.20,466.70 L223.35,468.21 L223.95,479.85 L224.25,481.78 L224.50,482.40 L224.80,482.76 L225.45,483.11 L226.50,483.32 L242.50,483.44" class="sp"/>
<text x="20.5" y="362.2" style="font-family:'Liberation Serif',serif;font-weight:bold" font-size="16" textLength="17.8" lengthAdjust="spacingAndGlyphs">(c)</text>
<text x="70.0" y="360.0" font-size="8.4" textLength="61.0" lengthAdjust="spacingAndGlyphs">C-H bending and</text>
<text x="70.0" y="371.4" font-size="8.4" textLength="60.4" lengthAdjust="spacingAndGlyphs">C-O-C stretching</text>
<text x="79.0" y="384.4" font-size="8.4" textLength="49.4" lengthAdjust="spacingAndGlyphs">400-1500 cm</text><text x="129.0" y="381.4" font-size="5.21" textLength="4.6" lengthAdjust="spacingAndGlyphs">-1</text>
<line x1="59.0" y1="371.0" x2="23.9" y2="388.1" stroke="#000" stroke-width="1.65"/><polygon points="20.0,390.0 23.8,385.5 25.9,389.8" fill="#000"/>
<line x1="59.0" y1="371.0" x2="32.1" y2="397.0" stroke="#000" stroke-width="1.65"/><polygon points="29.0,400.0 31.2,394.5 34.6,398.0" fill="#000"/>
<line x1="59.0" y1="371.0" x2="74.8" y2="397.3" stroke="#000" stroke-width="1.65"/><polygon points="77.0,401.0 72.2,397.6 76.3,395.1" fill="#000"/>
<text x="142.4" y="388.4" font-size="8.4" textLength="12.6" lengthAdjust="spacingAndGlyphs">C-H</text>
<text x="97.0" y="402.4" font-size="8.4" textLength="53.8" lengthAdjust="spacingAndGlyphs">3011-3147 cm</text><text x="151.4" y="399.4" font-size="5.21" textLength="4.6" lengthAdjust="spacingAndGlyphs">-1</text>
<line x1="165.0" y1="412.0" x2="171.1" y2="418.8" stroke="#000" stroke-width="1.65"/><polygon points="174.0,422.0 168.6,419.6 172.2,416.4" fill="#000"/>
<text x="123.6" y="435.4" font-size="8.4" textLength="14.0" lengthAdjust="spacingAndGlyphs">N-H</text>
<text x="113.0" y="449.4" font-size="8.4" textLength="30.2" lengthAdjust="spacingAndGlyphs">1735 cm</text><text x="143.8" y="446.4" font-size="5.21" textLength="4.6" lengthAdjust="spacingAndGlyphs">-1</text>
<line x1="120.4" y1="458.0" x2="101.4" y2="473.3" stroke="#000" stroke-width="1.65"/><polygon points="98.0,476.0 100.7,470.7 103.7,474.5" fill="#000"/>
<text x="247.8" y="422.4" font-size="8.4" textLength="13.8" lengthAdjust="spacingAndGlyphs">N-H</text>
<text x="232.1" y="436.9" font-size="8.4" textLength="32.3" lengthAdjust="spacingAndGlyphs">3696 cm</text><text x="265.0" y="433.9" font-size="5.21" textLength="4.6" lengthAdjust="spacingAndGlyphs">-1</text>
<line x1="245.5" y1="444.4" x2="225.8" y2="460.6" stroke="#000" stroke-width="1.65"/><polygon points="222.5,463.4 225.1,458.1 228.2,461.8" fill="#000"/>
<path d="M314,348 L314,492.4 L538,492.4" fill="none" stroke="#000" stroke-width="1.7"/><text class="tk" x="314.0" y="503.9" font-size="6.5" text-anchor="middle">400.00</text><text class="tk" x="345.2" y="503.9" font-size="6.5" text-anchor="middle">900.00</text><text class="tk" x="376.4" y="503.9" font-size="6.5" text-anchor="middle">1400.00</text><text class="tk" x="407.6" y="503.9" font-size="6.5" text-anchor="middle">1900.00</text><text class="tk" x="438.8" y="503.9" font-size="6.5" text-anchor="middle">2400.00</text><text class="tk" x="470.0" y="503.9" font-size="6.5" text-anchor="middle">2900.00</text><text class="tk" x="501.1" y="503.9" font-size="6.5" text-anchor="middle">3400.00</text><text class="tk" x="532.3" y="503.9" font-size="6.5" text-anchor="middle">3900.00</text>
<path d="M314.60,481.50 L315.00,481.36 L315.35,480.48 L315.70,481.11 L316.05,479.87 L316.40,480.09 L316.75,478.27 L317.10,478.49 L317.45,477.60 L317.80,480.20 L318.15,481.58 L318.50,482.18 L318.85,481.45 L319.20,482.50 L319.90,473.75 L320.25,467.64 L320.60,465.00 L320.95,467.28 L321.30,473.00 L321.65,470.47 L322.35,475.29 L322.70,479.16 L323.05,480.65 L323.40,481.36 L323.75,481.18 L324.10,481.86 L324.45,481.55 L324.80,482.36 L325.15,481.75 L325.50,482.00 L325.85,480.98 L326.20,481.30 L326.55,479.85 L326.90,480.60 L327.25,479.61 L327.60,480.90 L327.95,480.50 L328.30,481.60 L328.65,480.94 L329.00,482.30 L329.35,482.29 L329.70,483.00 L330.05,483.05 L330.40,483.43 L330.75,482.19 L331.10,482.25 L331.45,481.42 L331.80,481.08 L332.15,480.23 L332.50,479.90 L332.85,480.94 L333.20,483.26 L333.55,484.18 L333.90,484.21 L334.25,482.96 L334.60,483.35 L334.95,482.26 L335.30,482.49 L335.65,481.44 L336.00,482.60 L336.35,482.76 L336.70,484.00 L337.05,484.38 L337.40,485.10 L337.75,484.58 L338.10,484.40 L338.45,483.75 L338.80,483.70 L339.15,481.41 L339.50,480.16 L340.55,473.70 L340.90,474.29 L341.25,474.46 L341.60,475.29 L341.95,474.48 L342.30,474.72 L342.65,471.90 L343.00,470.24 L343.35,470.00 L343.70,472.45 L344.05,472.62 L344.40,473.84 L344.75,467.45 L345.00,465.05 L345.70,454.80 L346.50,469.71 L346.85,473.02 L348.20,447.70 L349.30,476.70 L349.65,475.41 L350.00,476.70 L350.35,476.00 L350.70,475.96 L351.05,472.21 L351.40,470.77 L351.75,467.65 L352.80,460.40 L355.30,433.50 L356.30,440.00 L358.40,465.40 L360.30,453.30 L362.60,473.99 L362.95,475.68 L363.30,480.12 L363.65,482.84 L364.00,483.79 L364.35,481.84 L364.70,481.31 L365.05,479.56 L365.40,478.83 L365.75,476.36 L366.10,476.35 L366.45,473.80 L366.80,473.49 L367.15,471.47 L367.50,470.56 L367.85,467.31 L368.20,467.64 L368.55,465.59 L369.80,455.50 L370.90,444.80 L371.90,438.40 L372.60,450.00 L372.85,450.00 L372.90,486.00 L372.90,450.00 L373.00,447.75 L373.45,378.37 L373.60,367.60 L373.75,378.37 L374.25,449.93 L375.50,449.80 L376.90,445.50 L378.00,440.00 L378.65,440.00 L378.70,439.88 L378.85,430.74 L379.00,427.00 L379.15,430.74 L379.40,444.43 L380.40,455.50 L381.35,469.47 L381.70,476.39 L382.05,471.39 L383.00,450.00 L383.30,448.57 L383.65,426.24 L383.70,425.70 L383.80,427.81 L384.05,445.00 L384.70,441.90 L384.95,416.60 L385.10,409.60 L385.25,416.60 L385.65,457.82 L386.10,474.00 L388.90,485.20 L391.80,486.00 L393.60,481.00 L394.60,484.50 L395.70,482.14 L396.05,474.40 L396.55,445.73 L396.70,441.60 L396.85,445.73 L397.30,472.36 L397.65,481.79 L397.90,484.16 L398.20,485.20 L399.70,487.09 L400.70,487.35 L402.10,487.51 L452.95,487.66 L465.00,487.53 L466.30,487.48 L468.00,487.20 L470.50,485.00 L472.00,481.50 L473.60,473.60 L475.20,442.12 L475.60,406.04 L475.80,398.00 L476.00,406.04 L476.35,438.41 L476.85,357.93 L477.00,347.60 L477.15,357.93 L477.75,449.07 L478.10,450.50 L478.55,403.69 L478.70,397.00 L478.85,403.69 L479.35,456.22 L479.45,457.25 L479.85,424.99 L480.00,420.00 L480.15,424.99 L480.55,457.04 L481.15,382.01 L481.25,374.59 L481.30,373.60 L481.35,374.59 L481.75,423.84 L481.80,484.50 L481.80,430.65 L482.05,457.04 L482.15,463.08 L482.20,461.94 L482.45,439.08 L482.95,357.93 L483.10,347.60 L483.25,357.93 L483.80,444.90 L484.35,371.92 L484.50,362.70 L484.65,371.92 L485.20,446.85 L485.45,443.70 L485.50,443.60 L485.55,443.70 L485.65,444.46 L485.90,449.10 L486.35,461.65 L486.40,461.92 L486.50,462.00 L488.50,475.00 L490.00,483.00 L491.50,486.40 L492.25,486.40 L492.80,485.70 L493.25,484.63 L493.55,483.30 L493.80,481.19 L494.10,475.25 L494.30,467.02 L494.85,424.99 L495.00,420.00 L495.15,424.99 L495.60,459.45 L496.25,377.01 L496.40,368.20 L496.55,377.01 L497.10,449.35 L497.35,426.07 L497.50,420.00 L498.00,453.57 L498.55,384.24 L498.70,376.00 L498.85,384.24 L499.40,453.57 L499.85,417.95 L499.95,413.06 L500.00,412.40 L500.05,413.06 L500.75,467.47 L501.05,477.93 L501.45,482.81 L501.75,484.28 L502.10,485.28 L502.75,486.25 L502.95,486.07 L503.50,485.12 L503.90,483.77 L504.20,481.77 L504.40,479.16 L504.80,465.34 L505.35,419.90 L505.50,414.50 L505.65,419.90 L505.95,446.73 L506.30,417.55 L506.40,414.50 L506.45,415.29 L507.10,469.38 L507.35,478.32 L507.65,482.52 L507.95,484.28 L508.00,479.00 L508.00,484.48 L508.50,485.73 L508.85,484.37 L509.10,481.94 L509.40,474.49 L509.85,451.56 L510.00,448.00 L510.15,451.56 L510.70,477.18 L510.95,466.39 L511.35,436.99 L511.50,432.00 L511.65,436.99 L512.20,473.76 L512.60,451.59 L513.15,378.21 L513.30,369.50 L513.45,378.21 L514.10,459.76 L514.40,442.95 L514.50,441.00 L514.55,441.50 L515.05,469.83 L515.35,479.99 L515.70,470.38 L516.25,435.18 L516.40,431.00 L516.55,435.18 L516.95,462.50 L517.25,475.89 L517.60,482.25 L517.85,484.02 L518.15,485.13 L518.55,485.95 L519.05,486.53 L519.70,486.94 L520.55,487.21 L537.50,487.67" class="sp"/>
<text x="321.1" y="364.2" style="font-family:'Liberation Serif',serif;font-weight:bold" font-size="16" textLength="16.4" lengthAdjust="spacingAndGlyphs">(f)</text>
<text x="315.6" y="402.8" font-size="8.4" textLength="54.4" lengthAdjust="spacingAndGlyphs">C-H EGF model</text>
<text x="325.6" y="417.4" font-size="8.4" textLength="27.2" lengthAdjust="spacingAndGlyphs">955 cm</text><text x="353.4" y="414.4" font-size="5.21" textLength="4.6" lengthAdjust="spacingAndGlyphs">-1</text>
<line x1="336.0" y1="426.0" x2="346.1" y2="442.3" stroke="#000" stroke-width="1.65"/><polygon points="348.4,446.0 343.5,442.7 347.6,440.1" fill="#000"/>
<text x="435.6" y="375.4" font-size="8.4" textLength="12.4" lengthAdjust="spacingAndGlyphs">C-H</text>
<text x="399.0" y="390.4" font-size="8.4" textLength="53.8" lengthAdjust="spacingAndGlyphs">3027-3179 cm</text><text x="453.4" y="387.4" font-size="5.21" textLength="4.6" lengthAdjust="spacingAndGlyphs">-1</text>
<line x1="458.4" y1="398.4" x2="464.8" y2="405.7" stroke="#000" stroke-width="1.65"/><polygon points="467.6,409.0 462.2,406.5 465.9,403.3" fill="#000"/>
<text x="424.4" y="413.4" font-size="8.4" textLength="15.2" lengthAdjust="spacingAndGlyphs">C=N</text>
<text x="411.0" y="428.4" font-size="8.4" textLength="31.8" lengthAdjust="spacingAndGlyphs">1732 cm</text><text x="443.4" y="425.4" font-size="5.21" textLength="4.6" lengthAdjust="spacingAndGlyphs">-1</text>
<line x1="417.0" y1="437.0" x2="406.5" y2="444.5" stroke="#000" stroke-width="1.65"/><polygon points="403.0,447.0 406.0,441.9 408.8,445.8" fill="#000"/>
<text x="431.0" y="447.4" font-size="8.4" textLength="14.6" lengthAdjust="spacingAndGlyphs">C=O</text>
<text x="419.6" y="460.4" font-size="8.4" textLength="21.4" lengthAdjust="spacingAndGlyphs">1675 -</text>
<text x="419.6" y="471.0" font-size="8.4" textLength="29.6" lengthAdjust="spacingAndGlyphs">1695cm</text><text x="449.8" y="468.0" font-size="5.21" textLength="4.6" lengthAdjust="spacingAndGlyphs">-1</text>
<line x1="410.0" y1="463.0" x2="396.2" y2="475.1" stroke="#000" stroke-width="1.65"/><polygon points="393.0,478.0 395.5,472.6 398.6,476.2" fill="#000"/>
<rect x="175.5" y="393" width="1.2" height="4.5" fill="#777"/>
<rect x="469.1" y="380" width="1.2" height="4" fill="#999"/>
</svg>
</body></html>
